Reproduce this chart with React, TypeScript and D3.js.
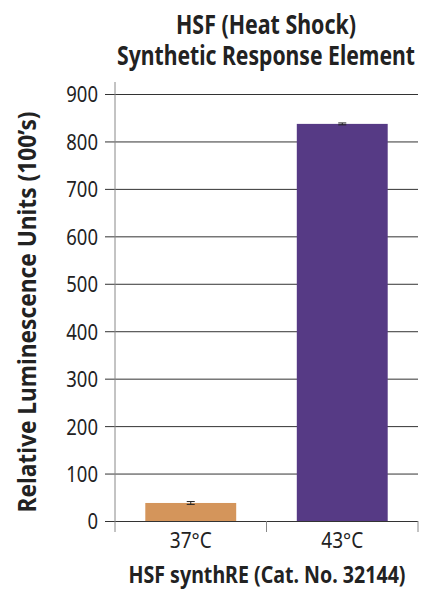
import { useEffect, useRef } from "react";
import * as d3 from "d3";

const categories = ["37°C", "43°C"];
const values = [38, 837];
const errors = [3, 2];
const barColors = ["#D4955B", "#563A85"];
const yTicks = [0, 100, 200, 300, 400, 500, 600, 700, 800, 900];
const titleLines = ["HSF (Heat Shock)", "Synthetic Response Element"];
const xTitle = "HSF synthRE (Cat. No. 32144)";
const yTitle = "Relative Luminescence Units (100’s)";

const FONT = "'Noto Sans', 'Open Sans', sans-serif";

// squeeze a text to a target width so the wide installed font reads like a condensed one
function fitWidth(sel: d3.Selection<any, any, any, any>, w: number | ((n: number) => number)) {
  sel.each(function () {
    const node = this as SVGTextElement;
    const natural = node.getComputedTextLength();
    const target = typeof w === "number" ? w : w(natural);
    node.setAttribute("textLength", String(target));
    node.setAttribute("lengthAdjust", "spacingAndGlyphs");
  });
}

export default function App() {
  const svgRef = useRef<SVGSVGElement>(null);

  useEffect(() => {
    if (!svgRef.current) return;
    const width = 435;
    const height = 600;
    const margin = { top: 94, right: 17, bottom: 79, left: 115 };

    const svg = d3.select(svgRef.current);
    svg.selectAll("*").remove();
    svg.attr("viewBox", `0 0 ${width} ${height}`);

    const x = d3
      .scaleBand()
      .domain(categories)
      .range([margin.left, width - margin.right])
      .paddingInner(0.4)
      .paddingOuter(0.2);

    const y = d3
      .scaleLinear()
      .domain([0, 900])
      .range([height - margin.bottom, margin.top]);

    // gridlines + y tick labels
    const yAxis = svg
      .append("g")
      .attr("transform", `translate(${margin.left},0)`)
      .call(
        d3
          .axisLeft(y)
          .tickValues(yTicks)
          .tickSize(-(width - margin.right - margin.left)),
      );
    yAxis.select(".domain").remove();
    yAxis
      .selectAll(".tick line")
      .attr("x1", -10)
      .attr("stroke", "#333")
      .attr("stroke-width", 1);
    const tickText = yAxis
      .selectAll(".tick text")
      .attr("x", -17)
      .attr("dy", "0.36em")
      .attr("fill", "#222")
      .style("font-family", FONT)
      .style("font-size", "22px");
    fitWidth(tickText, (n) => n * 0.84);

    // bars
    svg
      .append("g")
      .selectAll("rect")
      .data(categories)
      .join("rect")
      .attr("x", (d) => x(d)!)
      .attr("width", x.bandwidth())
      .attr("y", (_, i) => y(values[i]))
      .attr("height", (_, i) => y(0) - y(values[i]))
      .attr("fill", (_, i) => barColors[i]);

    // error bars
    const err = svg.append("g").attr("stroke", "#222").attr("stroke-width", 1);
    categories.forEach((c, i) => {
      const cx = x(c)! + x.bandwidth() / 2;
      const top = y(values[i] + errors[i]);
      const bot = y(values[i] - errors[i]);
      err.append("line").attr("x1", cx).attr("x2", cx).attr("y1", top).attr("y2", bot);
      err.append("line").attr("x1", cx - 4).attr("x2", cx + 4).attr("y1", top).attr("y2", top);
      err.append("line").attr("x1", cx - 4).attr("x2", cx + 4).attr("y1", bot).attr("y2", bot);
    });

    // y axis line
    svg
      .append("line")
      .attr("x1", margin.left)
      .attr("x2", margin.left)
      .attr("y1", margin.top - 12)
      .attr("y2", y(0) + 11)
      .attr("stroke", "#888");

    // x axis: boundary ticks between bands
    const step = x.step();
    const bounds = d3.range(categories.length + 1).map((i) => margin.left + i * step);
    svg
      .append("g")
      .selectAll("line")
      .data(bounds.slice(1))
      .join("line")
      .attr("x1", (d) => d)
      .attr("x2", (d) => d)
      .attr("y1", y(0))
      .attr("y2", y(0) + 11)
      .attr("stroke", "#888");

    const catText = svg
      .append("g")
      .selectAll("text")
      .data(categories)
      .join("text")
      .attr("x", (d) => x(d)! + x.bandwidth() / 2)
      .attr("y", 548)
      .attr("text-anchor", "middle")
      .attr("fill", "#222")
      .style("font-family", FONT)
      .style("font-size", "21px")
      .text((d) => d);
    fitWidth(catText, 42);

    // titles
    const titleWidths = [180, 298];
    svg
      .append("g")
      .selectAll("text")
      .data(titleLines)
      .join("text")
      .attr("x", 266)
      .attr("y", (_, i) => 34 + i * 31)
      .attr("text-anchor", "middle")
      .attr("fill", "#222")
      .style("font-family", FONT)
      .style("font-weight", "bold")
      .style("font-size", "26px")
      .text((d) => d)
      .each(function (_, i) {
        fitWidth(d3.select(this), titleWidths[i]);
      });

    const xt = svg
      .append("text")
      .attr("x", 267)
      .attr("y", 583)
      .attr("text-anchor", "middle")
      .attr("fill", "#222")
      .style("font-family", FONT)
      .style("font-weight", "bold")
      .style("font-size", "23px")
      .text(xTitle);
    fitWidth(xt, 277);

    const yt = svg
      .append("text")
      .attr("transform", `translate(36,312) rotate(-90)`)
      .attr("text-anchor", "middle")
      .attr("fill", "#222")
      .style("font-family", FONT)
      .style("font-weight", "bold")
      .style("font-size", "25px")
      .text(yTitle);
    fitWidth(yt, 401);
  }, []);

  return (
    <svg
      ref={svgRef}
      width={435}
      height={600}
      style={{ position: "absolute", left: 0, top: 0, background: "#fff" }}
    />
  );
}
